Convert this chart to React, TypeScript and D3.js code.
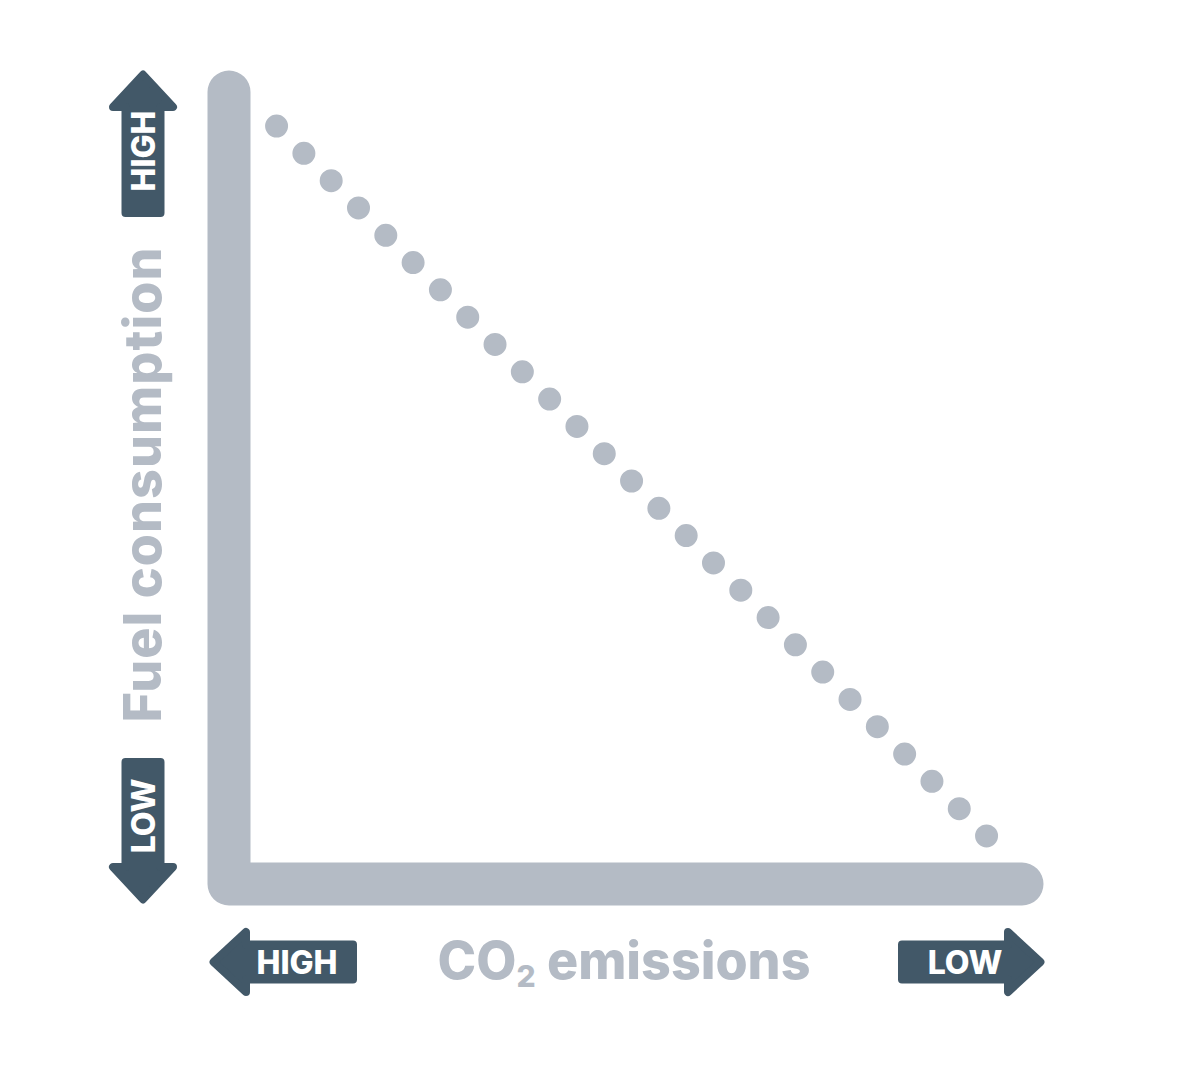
import React, { useEffect, useRef } from 'react'
import * as d3 from 'd3'

// relative scale: 0 = axis origin, 1 = end of axis
const trendCo2 = [0.06, 0.956]
const trendFuel = [0.957, 0.06]
const dotCount = 27

const xTitle = ['CO', '2', ' emissions']
const yTitle = 'Fuel consumption'
const yArrowLabels = ['HIGH', 'LOW']
const xArrowLabels = ['HIGH', 'LOW']

const AXIS = '#b4bbc5'
const ARROW = '#425868'
const FONT = 'Inter, "Open Sans", sans-serif'

// right-pointing arrow from x=0 (back) to x=len (tip), centred on y=0
const arrowPath = (len: number) => {
    const inset = 4
    const half = 21.5 - inset
    const head = 38
    const wing = 34 - inset
    const p = d3.path()
    p.moveTo(inset, -half)
    p.lineTo(len - head, -half)
    p.lineTo(len - head, -wing)
    p.lineTo(len - inset * 1.4, 0)
    p.lineTo(len - head, wing)
    p.lineTo(len - head, half)
    p.lineTo(inset, half)
    p.closePath()
    return p.toString()
}

const Chart: React.FC = () => {
    const ref = useRef<SVGSVGElement | null>(null)

    useEffect(() => {
        if (!ref.current) return
        const width = 1200
        const height = 1066
        const svg = d3.select(ref.current)
        svg.selectAll('*').remove()
        svg.attr('width', width).attr('height', height).attr('viewBox', `0 0 ${width} ${height}`)

        const x = d3.scaleLinear().domain([0, 1]).range([229, 1022])
        const y = d3.scaleLinear().domain([0, 1]).range([884, 92])

        // L-shaped axes
        const axis = d3.line<[number, number]>().x(d => x(d[0])).y(d => y(d[1]))
        svg.append('path')
            .attr('d', axis([[0, 1], [0, 0], [1, 0]]))
            .attr('fill', 'none')
            .attr('stroke', AXIS)
            .attr('stroke-width', 43)
            .attr('stroke-linecap', 'round')
            .attr('stroke-linejoin', 'round')

        // dotted trend line (pathLength a hair long so the last dot lands inside the path)
        const pts: [number, number][] = trendCo2.map((c, i) => [c, trendFuel[i]])
        svg.append('path')
            .attr('d', axis(pts))
            .attr('fill', 'none')
            .attr('stroke', AXIS)
            .attr('stroke-width', 23)
            .attr('stroke-linecap', 'round')
            .attr('pathLength', dotCount - 1 + 0.02)
            .attr('stroke-dasharray', '0 1')

        // arrows: [back x, back y, length, rotation, label, label x, label y, label rotated]
        const arrows: [number, number, number, number, string, number, number, boolean][] = [
            [143, 217, 148, -90, yArrowLabels[0], 143, 151, true],
            [143, 758, 147, 90, yArrowLabels[1], 143, 816, true],
            [357, 962, 149, 180, xArrowLabels[0], 297, 962, false],
            [898, 962, 148, 0, xArrowLabels[1], 965, 962, false],
        ]

        arrows.forEach(([bx, by, len, rot, label, lx, ly, vertical]) => {
            svg.append('path')
                .attr('d', arrowPath(len))
                .attr('transform', `translate(${bx},${by}) rotate(${rot})`)
                .attr('fill', ARROW)
                .attr('stroke', ARROW)
                .attr('stroke-width', 8)
                .attr('stroke-linejoin', 'round')

            const t = svg.append('text')
                .attr('text-anchor', 'middle')
                .style('font-family', FONT)
                .style('font-weight', 800)
                .style('font-size', '32px')
                .attr('fill', '#ffffff')
                .text(label)
            if (vertical) t.attr('transform', `translate(${lx + 11.5},${ly}) rotate(-90)`)
            else t.attr('x', lx).attr('y', ly + 11.5)
        })

        // axis titles
        svg.append('text')
            .attr('transform', `translate(161,485) rotate(-90)`)
            .attr('text-anchor', 'middle')
            .attr('textLength', 475)
            .attr('lengthAdjust', 'spacing')
            .style('font-family', FONT)
            .style('font-weight', 800)
            .style('font-size', '52px')
            .attr('fill', AXIS)
            .text(yTitle)

        const xt = svg.append('text')
            .attr('x', 624)
            .attr('y', 979)
            .attr('text-anchor', 'middle')
            .style('font-family', FONT)
            .style('font-weight', 800)
            .style('font-size', '52px')
            .attr('fill', AXIS)
        xt.append('tspan').text(xTitle[0])
        xt.append('tspan').attr('dy', 8).style('font-size', '30px').text(xTitle[1])
        xt.append('tspan').attr('dy', -8).text(xTitle[2])
    }, [])

    return <svg ref={ref} style={{ display: 'block', background: '#fff' }}></svg>
}

export default function App() {
    return (
        <div style={{ position: 'absolute', left: 0, top: 0 }}>
            <Chart />
        </div>
    )
}
